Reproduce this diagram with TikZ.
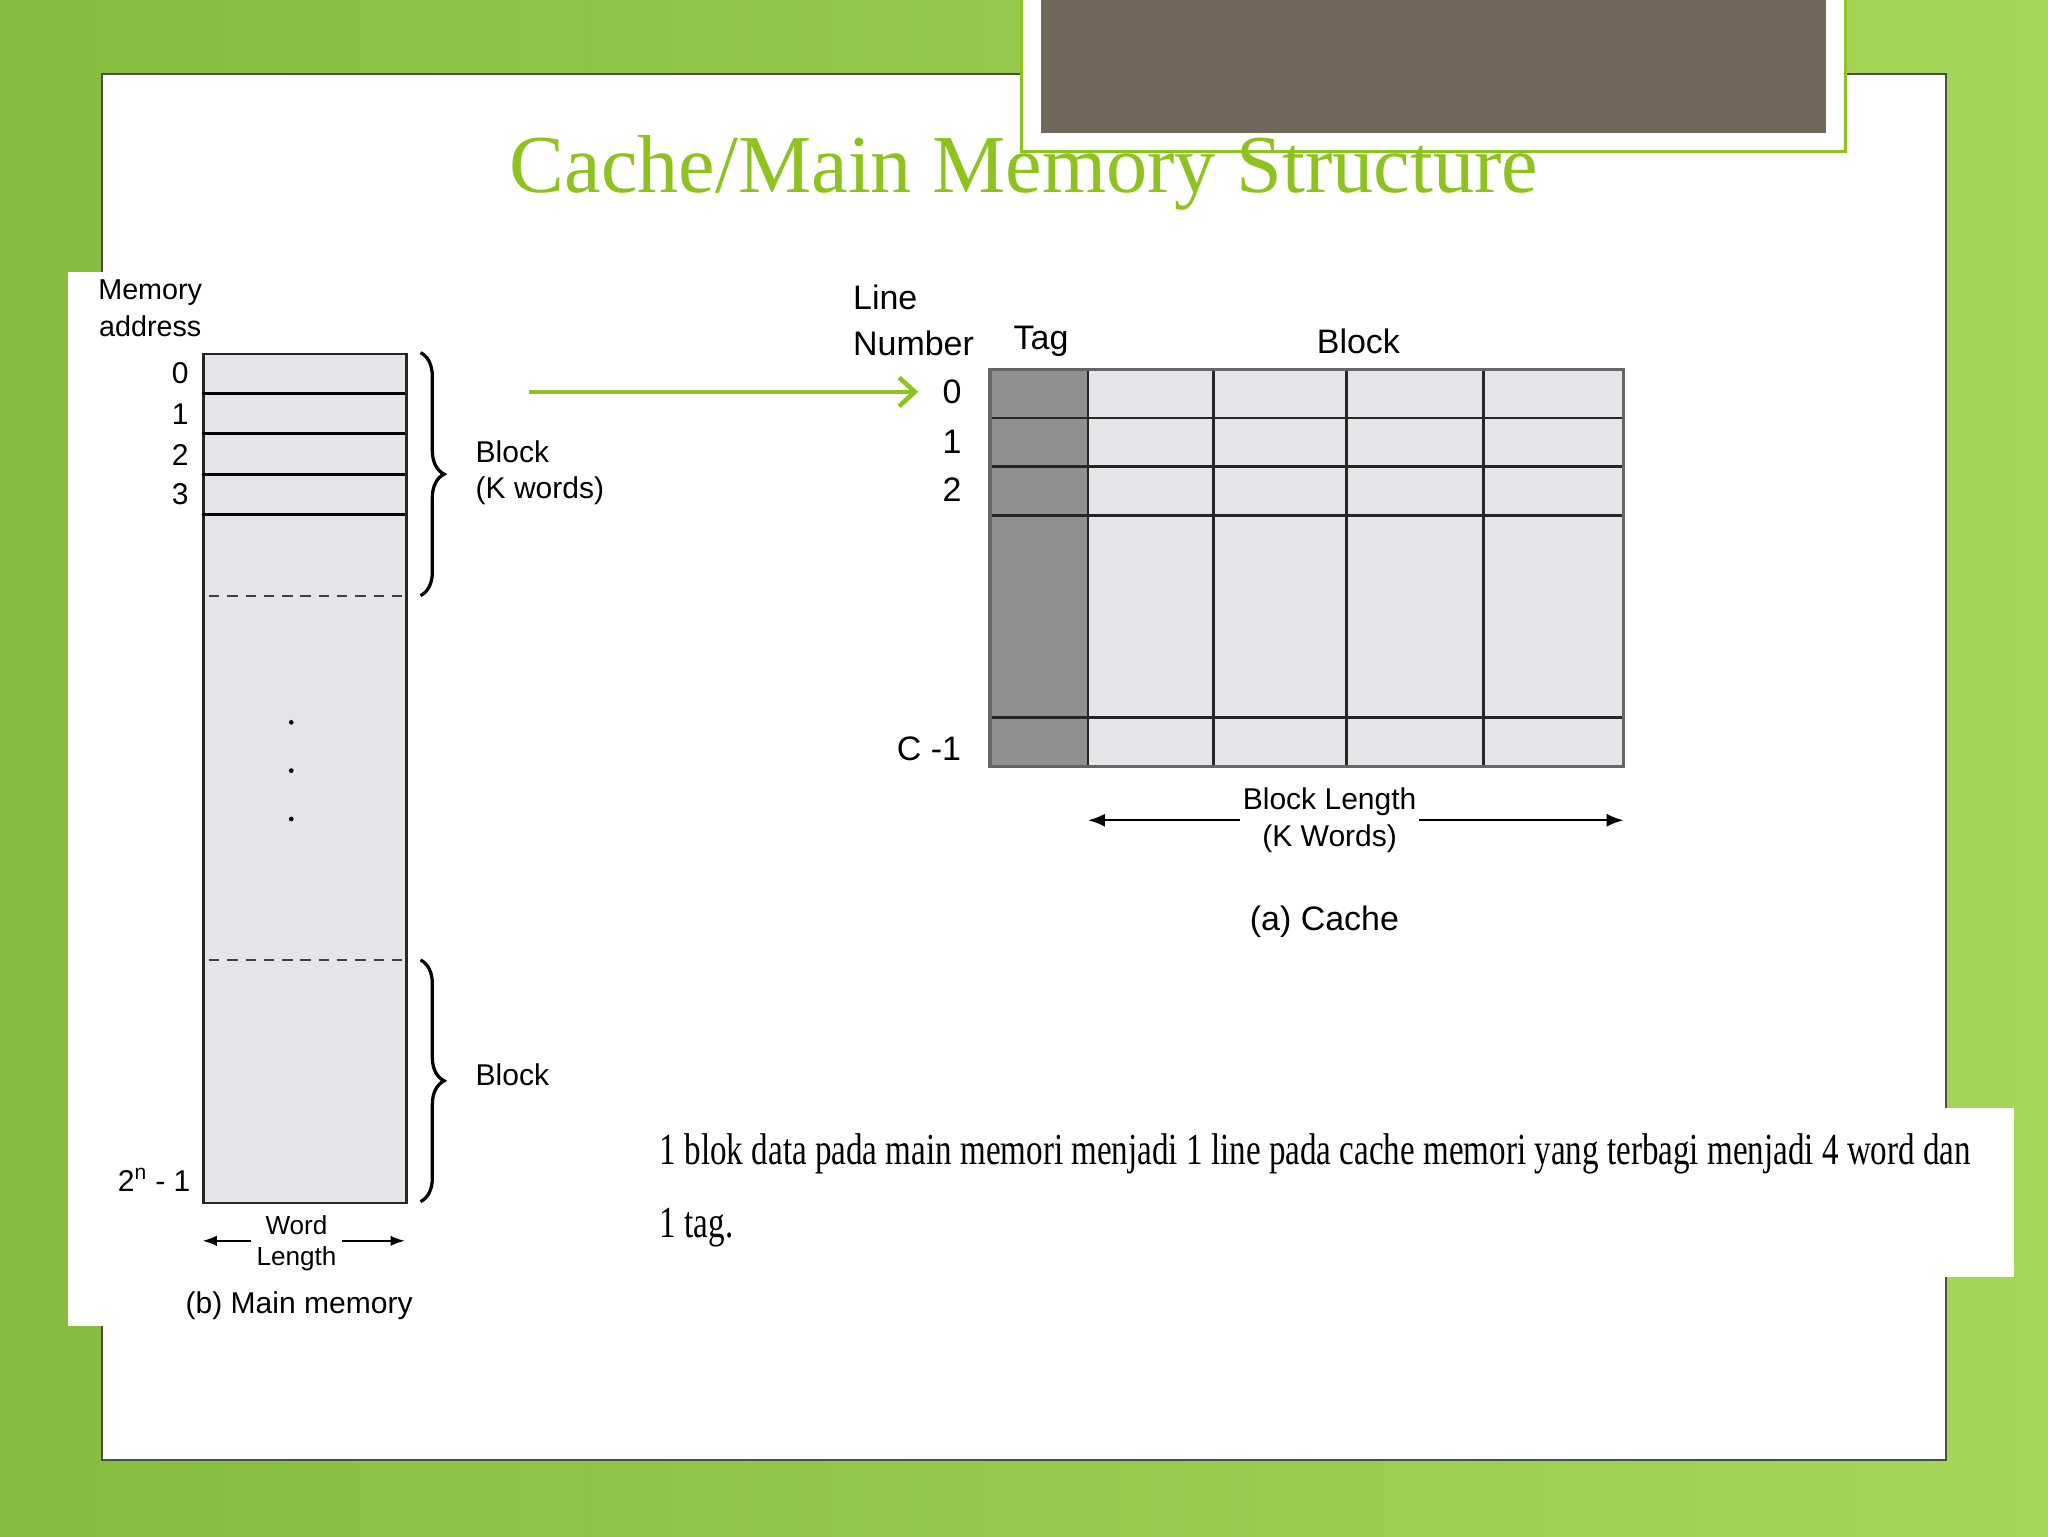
\documentclass[tikz,border=0pt]{standalone}
\usepackage{fontspec}
\setmainfont{Liberation Serif}
\setsansfont{Liberation Sans}
\usetikzlibrary{arrows.meta,decorations.pathreplacing}
\definecolor{bg1}{HTML}{86BC3E}
\definecolor{bg2}{HTML}{A6D658}
\definecolor{ttl}{HTML}{8DC21F}
\definecolor{cellc}{HTML}{E6E4E8}
\definecolor{tagc}{HTML}{909090}
\definecolor{topbox}{HTML}{72685A}
\tikzset{
 lbl/.style={font=\sffamily\fontsize{23}{26}\selectfont, inner sep=0pt},
 slbl/.style={font=\sffamily\fontsize{20}{24}\selectfont, inner sep=0pt, align=center},
 grid/.style={draw=black!85, line width=2.2pt},
}
\begin{document}
\begin{tikzpicture}[x=1pt,y=-1pt]
\useasboundingbox (0,0) rectangle (1568,1176);
\shade[left color=bg1,right color=bg2] (0,0) rectangle (1568,1176);
\fill[white,draw=black!70,line width=1.5pt] (78,57) rectangle (1490,1118);
% top box
\fill[white,draw=ttl,line width=2pt] (782,-2) rectangle (1413,116);
\fill[topbox] (797,0) rectangle (1398,102);
\node[font=\fontsize{63}{66}\selectfont,text=ttl,inner sep=0pt] (title) at (784,132) {Cache/Main Memory Structure};
% white patches
\fill[white] (52,208) rectangle (560,1015);
\fill[white] (500,848) rectangle (1542,978);
% main memory
\node[draw=black!85,line width=2pt,fill=cellc,minimum width=155,minimum height=650,anchor=north west,inner sep=0pt] (mm) at (155,270) {};
\foreach \y in {301,332,363,394} \draw[line width=2.2pt] (155,\y) -- (310,\y);
\foreach \y in {456,735} \draw[line width=1.5pt,dash pattern=on 8pt off 6pt,black!75] (160,\y) -- (310,\y);
\foreach \y in {553,590,627} \fill (223,\y) circle (1.8);
\foreach \t/\y in {0/286,1/317,2/348,3/378} \node[lbl] at (138,\y) {\t};
\node[lbl,anchor=east] (ln) at (146,903) {2\textsuperscript{n} - 1};
\node[lbl,align=center,font=\sffamily\fontsize{22}{28}\selectfont] (ma) at (115,236) {Memory\\address};
\draw[decorate,decoration={brace,amplitude=18pt,aspect=0.5},line width=2.5pt] (322,270) -- (322,456);
\draw[decorate,decoration={brace,amplitude=18pt,aspect=0.5},line width=2.5pt] (322,735) -- (322,920);
\node[lbl,align=left,anchor=west,font=\sffamily\fontsize{23}{28}\selectfont] (b1) at (364,362) {Block\\(K words)};
\node[lbl,anchor=west,font=\sffamily\fontsize{23}{28}\selectfont] (b2) at (364,823) {Block};
\node[slbl] (wl) at (227,952) {Word\\Length};
\coordinate (wa) at (155,950); \coordinate (wb) at (310,950);
\draw[-{Latex[length=11pt,width=8pt]},line width=1.5pt] (wl.west) ++(-4,-2) -- (wa);
\draw[-{Latex[length=11pt,width=8pt]},line width=1.5pt] (wl.east) ++(4,-2) -- (wb);
\node[lbl] (bmm) at (229,1000) {(b) Main memory};
% cache
\fill[cellc] (758,283) rectangle (1243,587);
\fill[tagc] (758,283) rectangle (833,587);
\foreach \x in {833,929,1031,1136} \draw[grid] (\x,283) -- (\x,587);
\foreach \y in {320,357,395,549} \draw[grid] (758,\y) -- (1243,\y);
\draw[grid,draw=black!60,line width=2.5pt] (758,283) rectangle (1243,587);
\foreach \t/\y in {0/300,1/338,2/375} \node[lbl,font=\sffamily\fontsize{26}{30}\selectfont] at (729,\y) {\t};
\node[lbl,anchor=east,font=\sffamily\fontsize{26}{30}\selectfont] (cm1) at (736,573) {C -1};
\node[lbl,align=left,anchor=west,font=\sffamily\fontsize{26}{35}\selectfont] (lnum) at (653,245) {Line\\Number};
\node[lbl,font=\sffamily\fontsize{26}{30}\selectfont] (tag) at (797,261) {Tag};
\node[lbl,font=\sffamily\fontsize{26}{30}\selectfont] (blk) at (1040,261) {Block};
\coordinate (ga) at (405,300); \coordinate (gb) at (703,300);
\draw[ttl,line width=3.5pt,-{Straight Barb[length=12pt,width=22pt]}] (ga) -- (gb);
\node[slbl,font=\sffamily\fontsize{23}{28}\selectfont] (bl) at (1018,628) {Block Length\\(K Words)};
\coordinate (ba) at (833,628); \coordinate (bb) at (1243,628);
\draw[-{Latex[length=13pt,width=10pt]},line width=1.6pt] (bl.west) ++(-2,0) -- (ba);
\draw[-{Latex[length=13pt,width=10pt]},line width=1.6pt] (bl.east) ++(2,0) -- (bb);
\node[lbl,font=\sffamily\fontsize{26}{30}\selectfont] (ac) at (1014,706) {(a) Cache};
% bottom text
\node[anchor=north west,align=left,inner sep=0pt,font=\fontsize{34}{56}\selectfont] (txt) at (505,868)
 {\scalebox{0.745}[1]{1 blok data pada main memori menjadi 1 line pada cache memori yang terbagi menjadi 4 word dan}\\
  \scalebox{0.745}[1]{1 tag.}};
\end{tikzpicture}
\end{document}
